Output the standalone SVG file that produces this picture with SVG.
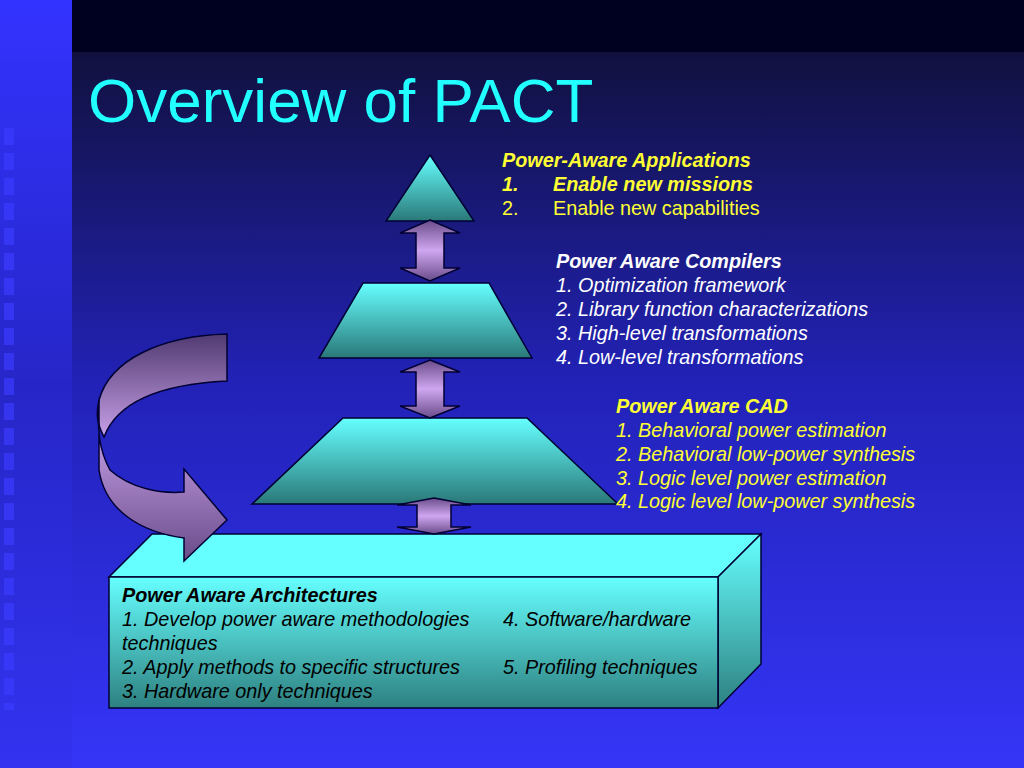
<svg xmlns="http://www.w3.org/2000/svg" width="1024" height="768" viewBox="0 0 1024 768">
<defs>
<linearGradient id="bg" x1="0" y1="0" x2="0" y2="1"><stop offset="0" stop-color="#0e0e2c"/><stop offset="0.5" stop-color="#2222b8"/><stop offset="1" stop-color="#3535f8"/></linearGradient>
<linearGradient id="side" x1="0" y1="0" x2="0" y2="1"><stop offset="0" stop-color="#3333ff"/><stop offset="0.5" stop-color="#2626c8"/><stop offset="1" stop-color="#3333f0"/></linearGradient>
<linearGradient id="cy" x1="0" y1="0" x2="0" y2="1"><stop offset="0" stop-color="#66ffff"/><stop offset="1" stop-color="#2a7878"/></linearGradient>
<linearGradient id="cy2" x1="0" y1="0" x2="0" y2="1"><stop offset="0" stop-color="#66ffff"/><stop offset="1" stop-color="#2e8080"/></linearGradient>
<linearGradient id="pu" x1="0" y1="0" x2="0" y2="1"><stop offset="0" stop-color="#6a4c8a"/><stop offset="0.5" stop-color="#cfa6f0"/><stop offset="1" stop-color="#6a4c8a"/></linearGradient>
<linearGradient id="back" x1="0" y1="0" x2="0" y2="1"><stop offset="0" stop-color="#503a70"/><stop offset="1" stop-color="#c8a0e8"/></linearGradient>
<linearGradient id="front" x1="0" y1="0" x2="0" y2="1"><stop offset="0" stop-color="#d8b0f8"/><stop offset="1" stop-color="#6a4c8a"/></linearGradient>
<pattern id="sq" width="20" height="25" patternUnits="userSpaceOnUse"><rect x="4" y="3" width="10" height="17" fill="#3a3aff" opacity="0.7"/></pattern>
</defs>
<style>
.sh{stroke:#000033;stroke-width:1.5}
.t{font-family:"Liberation Sans",Arial,sans-serif;font-size:19.8px}
.y{fill:#ffff33;font-style:italic}
.w{fill:#ffffff;font-style:italic}
.k{fill:#000000;font-style:italic}
.b{font-weight:bold}
</style>
<rect width="1024" height="768" fill="url(#bg)"/>
<rect x="72" y="0" width="952" height="52" fill="#000020"/>
<rect x="0" y="0" width="72" height="768" fill="url(#side)"/>
<rect x="0" y="120" width="20" height="590" fill="url(#sq)"/>
<text x="88" y="122" font-family="Liberation Sans,Arial,sans-serif" font-size="62" fill="#22ffff">Overview of PACT</text>

<g id="apps"><polygon class="sh" fill="url(#cy)" points="430,155 474,221 386,221"/></g>
<g id="compilers"><polygon class="sh" fill="url(#cy)" points="363,283 489,283 532,358 319,358"/></g>
<g id="cad"><polygon class="sh" fill="url(#cy)" points="343,418 527,418 618,504 252,504"/></g>
<g id="arch">
<polygon class="sh" fill="#66ffff" points="109,577 152,534 761,534 718,577"/>
<polygon class="sh" fill="url(#cy2)" points="718,577 761,534 761,664 718,708"/>
<rect class="sh" x="109" y="577" width="609" height="131" fill="url(#cy2)"/>
<text class="t k b" x="122" y="602">Power Aware Architectures</text>
<text class="t k" x="122" y="626">1. Develop power aware methodologies</text>
<text class="t k" x="503" y="626">4. Software/hardware</text>
<text class="t k" x="122" y="650">techniques</text>
<text class="t k" x="122" y="674">2. Apply methods to specific structures</text>
<text class="t k" x="503" y="674">5. Profiling techniques</text>
<text class="t k" x="122" y="698">3. Hardware only techniques</text>
</g>

<g id="connectors">
<path class="sh" fill="url(#pu)" d="M430,220 L460,233 L444,233 L444,268 L460,268 L430,281 L400,268 L416,268 L416,233 L400,233 Z"/>
<path class="sh" fill="url(#pu)" d="M430,360 L460,372 L444,372 L444,406 L460,406 L430,418 L400,406 L416,406 L416,372 L400,372 Z"/>
<path class="sh" fill="url(#pu)" d="M434,498 L471,505 L451,505 L451,527 L471,527 L434,534 L397,527 L417,527 L417,505 L397,505 Z"/>
<path class="sh" fill="url(#back)" d="M227,334 L227,381 C165,384 118,400 104,437 C95,420 97,410 99,400 C110,360 160,336 227,334 Z"/>
<path class="sh" fill="url(#front)" d="M99,400 C97,430 99,450 110,470 C130,488 160,494 184,492 L184,469 L227,520 L184,561 L184,538 C140,532 105,510 99,470 Z"/>
</g>

<g id="labels">
<text class="t y b" x="502" y="167">Power-Aware Applications</text>
<text class="t y b" x="502" y="191">1.</text><text class="t y b" x="553" y="191">Enable new missions</text>
<text class="t" fill="#ffff33" x="502" y="215">2.</text><text class="t" fill="#ffff33" x="553" y="215">Enable new capabilities</text>
<text class="t w b" x="556" y="268">Power Aware Compilers</text>
<text class="t w" x="556" y="292">1. Optimization framework</text>
<text class="t w" x="556" y="316">2. Library function characterizations</text>
<text class="t w" x="556" y="340">3. High-level transformations</text>
<text class="t w" x="556" y="364">4. Low-level transformations</text>
<text class="t y b" x="616" y="413">Power Aware CAD</text>
<text class="t y" x="616" y="437">1. Behavioral power estimation</text>
<text class="t y" x="616" y="461">2. Behavioral low-power synthesis</text>
<text class="t y" x="616" y="485">3. Logic level power estimation</text>
<text class="t y" x="616" y="508">4. Logic level low-power synthesis</text>
</g>
</svg>
